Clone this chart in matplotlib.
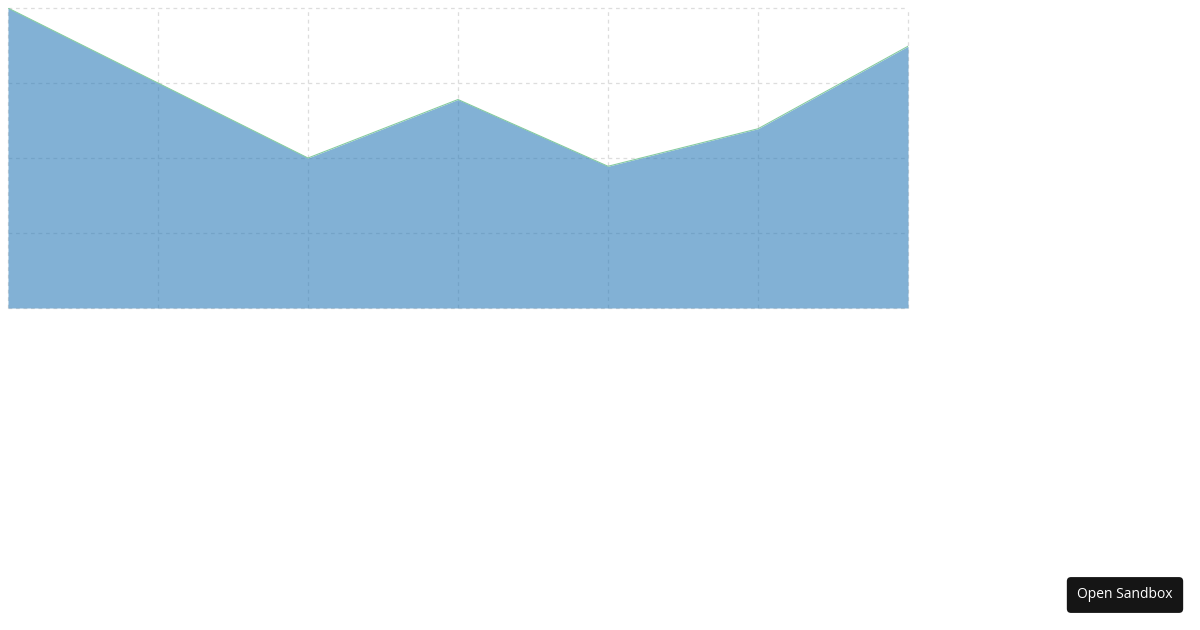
import matplotlib
matplotlib.use("Agg")
import matplotlib.pyplot as plt

PAGES = ["Page A", "Page B", "Page C", "Page D", "Page E", "Page F", "Page G"]
UV = [4000, 3000, 2000, 2780, 1890, 2390, 3490]
Y_TICKS = [0, 1000, 2000, 3000, 4000]

W, H = 1200, 630
fig = plt.figure(figsize=(W / 100, H / 100), dpi=100)
ax = fig.add_axes([8 / W, 1 - 308 / H, 900 / W, 300 / H])

x = list(range(len(PAGES)))

# grid under the translucent fill
for xv in x:
    ax.axvline(xv, color="#dddddd", lw=0.9, ls=(0, (3, 3)), clip_on=False, zorder=1)
for yv in Y_TICKS:
    ax.axhline(yv, color="#dddddd", lw=0.9, ls=(0, (3, 3)), clip_on=False, zorder=1)

ax.fill_between(x, 0, UV, color="#2f7db9", alpha=0.6, lw=0, zorder=2)
ax.plot(x, UV, color="#82ca9d", lw=0.75, zorder=3)

ax.set_xlim(0, len(PAGES) - 1)
ax.set_ylim(0, max(Y_TICKS))
ax.set_xticks([])
ax.set_yticks([])
for s in ax.spines.values():
    s.set_visible(False)

fig.text(1125 / W, 1 - 595 / H, "Open Sandbox", color="white", fontsize=10,
         family=["Open Sans", "DejaVu Sans"], ha="center", va="center",
         bbox=dict(boxstyle="round,pad=0.75,rounding_size=0.3", fc="#151515", ec="none"))

fig.savefig("out.png", dpi=100)
